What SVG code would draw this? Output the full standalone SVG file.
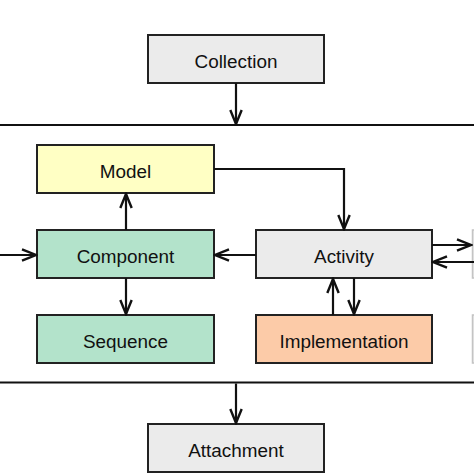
<svg xmlns="http://www.w3.org/2000/svg" width="474" height="474" viewBox="0 0 474 474">
<style>
.box{stroke:#222;stroke-width:2}
.gray{fill:#ebebeb}
.yellow{fill:#ffffc4}
.green{fill:#b3e3cb}
.orange{fill:#fccba8}
.lbl{font-family:"Liberation Sans",Arial,sans-serif;font-size:18.9px;fill:#111;text-anchor:middle}
.edge{fill:none;stroke:#111;stroke-width:2.2}
</style>
<defs>
<marker id="ah" markerUnits="userSpaceOnUse" markerWidth="17" markerHeight="14" refX="15" refY="7" orient="auto" viewBox="0 0 17 14">
<path d="M1,1.3 L15,7 L1,12.7" fill="none" stroke="#111" stroke-width="2.4"/>
</marker>
</defs>
<rect width="474" height="474" fill="#fff"/>
<g id="frame">
<line x1="0" y1="125" x2="474" y2="125" stroke="#111" stroke-width="2.2"/>
<line x1="0" y1="382.5" x2="474" y2="382.5" stroke="#111" stroke-width="2.2"/>
</g>
<g id="collection"><rect class="box gray" x="148" y="35" width="176" height="48"/><text class="lbl" x="236" y="67.5">Collection</text></g>
<g id="model"><rect class="box yellow" x="37" y="145" width="177" height="48"/><text class="lbl" x="125.5" y="177.5">Model</text></g>
<g id="component"><rect class="box green" x="37" y="230" width="177" height="48"/><text class="lbl" x="125.5" y="262.5">Component</text></g>
<g id="sequence"><rect class="box green" x="37" y="315" width="177" height="48"/><text class="lbl" x="125.5" y="347.5">Sequence</text></g>
<g id="activity"><rect class="box gray" x="256" y="230" width="176" height="48"/><text class="lbl" x="344" y="262.5">Activity</text></g>
<g id="implementation"><rect class="box orange" x="256" y="315" width="176" height="48"/><text class="lbl" x="344" y="347.5">Implementation</text></g>
<g id="attachment"><rect class="box gray" x="148" y="424" width="176" height="48"/><text class="lbl" x="236" y="456.5">Attachment</text></g>
<g id="offscreen-right">
<rect x="472.5" y="230" width="10" height="48" fill="#e8e8e8" stroke="#c4c4c4" stroke-width="1.5"/>
<rect x="472.5" y="315" width="10" height="48" fill="#e8e8e8" stroke="#c4c4c4" stroke-width="1.5"/>
</g>
<g id="connectors">
<path class="edge" d="M236,83 V124" marker-end="url(#ah)"/>
<path class="edge" d="M236,383.5 V423" marker-end="url(#ah)"/>
<path class="edge" d="M0,255 H36" marker-end="url(#ah)"/>
<path class="edge" d="M126,230 V194" marker-end="url(#ah)"/>
<path class="edge" d="M126,278 V314" marker-end="url(#ah)"/>
<path class="edge" d="M256,255 H215" marker-end="url(#ah)"/>
<path class="edge" d="M214,169 H344 V229" marker-end="url(#ah)"/>
<path class="edge" d="M333,315 V279" marker-end="url(#ah)"/>
<path class="edge" d="M354,278 V314" marker-end="url(#ah)"/>
<path class="edge" d="M432,245 H471" marker-end="url(#ah)"/>
<path class="edge" d="M474,262 H433" marker-end="url(#ah)"/>
</g>
</svg>
